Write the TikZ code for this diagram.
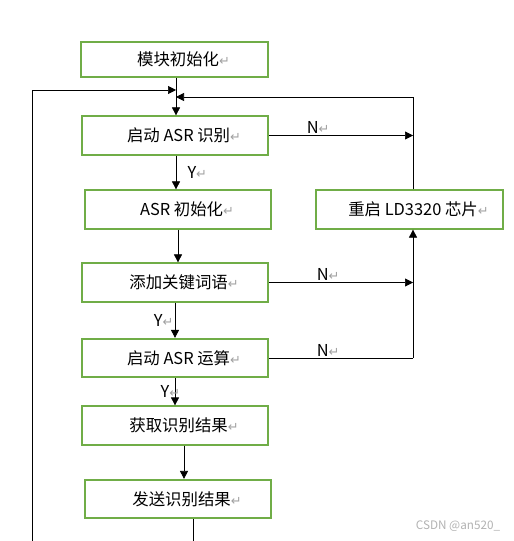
\documentclass[tikz,border=0pt]{standalone}
\usepackage{fontspec}
\setmainfont{Noto Sans CJK SC}
\newfontfamily\symfont{DejaVu Sans}
\usepackage{tikz}
\usetikzlibrary{arrows.meta,positioning}
\definecolor{boxgreen}{HTML}{70AD47}
\definecolor{retgray}{HTML}{A0A0A0}
\newcommand{\ret}{{\symfont\fontsize{11}{11}\selectfont\color{retgray}↵}}
\tikzset{
  stepbox/.style = {rectangle, draw=boxgreen, line width=1.6pt, minimum width=5.6cm, minimum height=1.15cm,
                    font=\fontsize{14}{17}\selectfont, execute at begin node={\hspace*{0.54cm}}},
  flow/.style = {draw, line width=0.6pt, -{Triangle[length=2.4mm,width=2.4mm]}},
  tag/.style = {font=\fontsize{14}{14}\selectfont, inner sep=1pt}
}

\begin{document}
\begin{tikzpicture}[x=0.03cm, y=-0.03cm]
\useasboundingbox (0,0) rectangle (514,541);

\node [stepbox, minimum height=1.05cm] (modinit) at (174.5,59.5) {模块初始化\ret};
\node [stepbox] (startrec) at (175,135.5) {启动 ASR 识别\ret};
\node [stepbox] (asrinit) at (178,209.5) {ASR 初始化\ret};
\node [stepbox] (reset) at (409.5,209.5) {重启 LD3320 芯片\ret};
\node [stepbox] (addword) at (175,282.5) {添加关键词语\ret};
\node [stepbox] (startcalc) at (175,358) {启动 ASR 运算\ret};
\node [stepbox] (getres) at (175,425.5) {获取识别结果\ret};
\node [stepbox] (sendres) at (178,499) {发送识别结果\ret};

\coordinate (jl) at (176,90);
\coordinate (jr) at (176,97);
\coordinate (rv) at (413,97);
\coordinate (lb) at (32,541);
\coordinate (c6) at (184,0);
\coordinate (sb) at (193,541);

% main line and the two loops back
\draw[flow] (modinit.south -| jl) -- (startrec.north -| jl);
\draw[flow] (lb) |- (jl);
\draw[flow] (reset.north -| rv) |- (jr);

\draw[flow] (startrec.east) -- node [tag, above, pos=0.34] {N\ret} (startrec.east -| rv);
\draw[flow] (startrec.south -| jl) -- node [tag, right=0.3cm] {Y\ret} (asrinit.north -| jl);
\draw[flow] (asrinit.south) -- (asrinit.south |- addword.north);
\draw[flow] (addword.east) -- node [tag, above, pos=0.41] {N\ret} (addword.east -| rv);
\draw[flow] (addword.south) -- node [tag, left] {Y\ret} (addword.south |- startcalc.north);
\draw[line width=0.6pt] (startcalc.east) -- node [tag, above, pos=0.41] {N\ret} (startcalc.east -| rv);
\draw[flow] (startcalc.east -| rv) -- (reset.south -| rv);
\draw[flow] (startcalc.south) -- node [tag, left, xshift=0.2cm] {Y\ret} (startcalc.south |- getres.north);
\draw[flow] (getres.south -| c6) -- (sendres.north -| c6);
\draw[line width=0.6pt] (sendres.south -| sb) -- (sb);

\node [text=gray!60, font=\fontsize{10}{10}\selectfont] (mark) at (458,526) {CSDN @an520\_};

\end{tikzpicture}
\end{document}
